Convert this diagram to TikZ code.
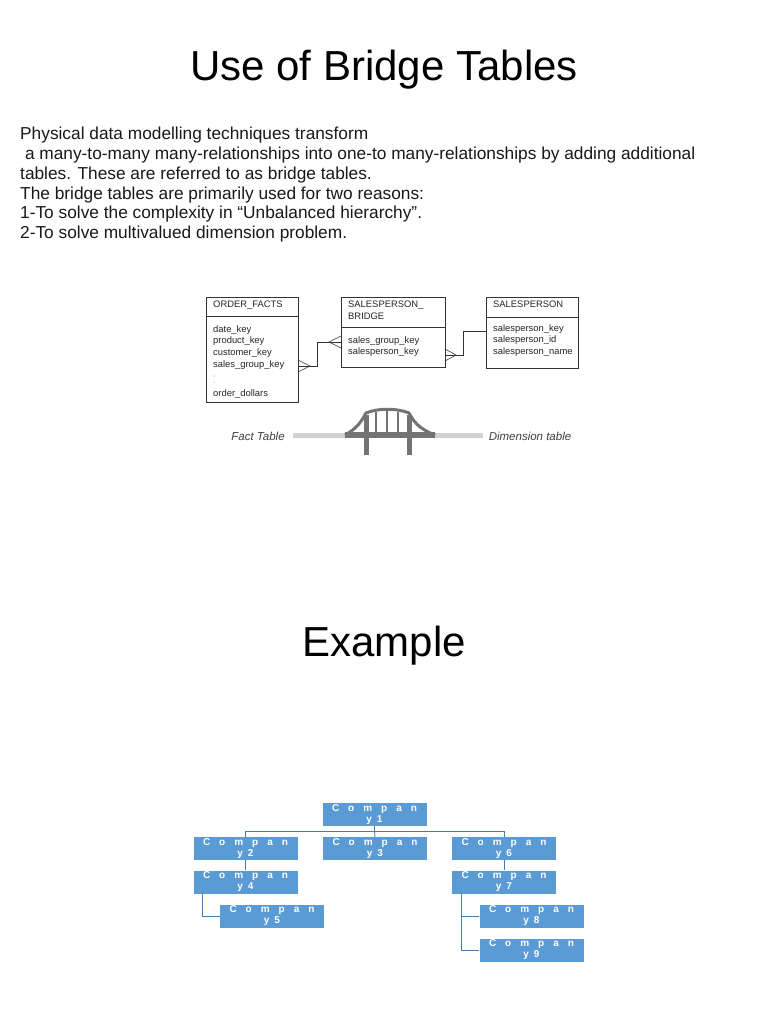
\documentclass[tikz,border=0pt]{standalone}
\usepackage{fontspec}
\setmainfont{Liberation Sans}
\newcommand{\cmp}[1]{C\hspace{9pt}o\hspace{9pt}m\hspace{9pt}p\hspace{9pt}a\hspace{9pt}n\\y\hspace{5pt}#1}
\begin{document}
\begin{tikzpicture}[x=1pt,y=-1pt,
  co/.style={fill=comp, text=white, minimum width=104pt, minimum height=23pt, inner sep=0pt, font=\fontsize{10}{11}\selectfont\bfseries, align=center},
  tb/.style={draw=black!80, line width=0.6pt},
  tt/.style={font=\fontsize{9.4}{11.8}\selectfont, anchor=north west, align=left, inner sep=0pt, text=black!85},
  cn/.style={line width=0.9pt, draw=comp!80!black}]
\definecolor{comp}{RGB}{91,155,213}
\useasboundingbox (0,0) rectangle (768,1024);
\fill[white] (0,0) rectangle (768,1024);
\node[font=\fontsize{42}{48}\selectfont] (t1) at (384,70) {Use of Bridge Tables};
\node[anchor=north west, align=left, inner sep=0pt, font=\fontsize{17.3}{19.8}\selectfont, text=black!90] (body) at (20,127) {Physical data modelling techniques transform\\
\ a many-to-many many-relationships into one-to many-relationships by adding additional\\
tables. These are referred to as bridge tables.\\
The bridge tables are primarily used for two reasons:\\
1-To solve the complexity in ``Unbalanced hierarchy''.\\
2-To solve multivalued dimension problem.};
% ER tables
\draw[tb] (206,297) rectangle (298,402); \draw[tb] (206,316)--(298,316);
\draw[tb] (341,297) rectangle (445,367); \draw[tb] (341,327)--(445,327);
\draw[tb] (486,297) rectangle (578,368); \draw[tb] (486,317)--(578,317);
\node[tt] (of) at (213,301) {ORDER\_FACTS};
\node[tt] (ofb) at (213,325) {date\_key\\product\_key\\customer\_key\\sales\_group\_key};
\fill[black!60] (214,376) circle (0.5pt) (214,382) circle (0.5pt);
\node[tt] (ofe) at (213,389) {order\_dollars};
\node[tt] (br) at (348,301) {SALESPERSON\_\\BRIDGE};
\node[tt] (brb) at (348,336) {sales\_group\_key\\salesperson\_key};
\node[tt] (sp) at (493,301) {SALESPERSON};
\node[tt] (spb) at (493,324) {salesperson\_key\\salesperson\_id\\salesperson\_name};
\draw[black!80, line width=0.6pt] (298,366)--(317,366)--(317,342)--(341,342);
\draw[black!80, line width=0.6pt] (298,360)--(310,366)--(298,372);
\draw[black!80, line width=0.6pt] (341,336)--(329,342)--(341,348);
\draw[black!80, line width=0.6pt] (445,355)--(463,355)--(463,331)--(486,331);
\draw[black!80, line width=0.6pt] (445,349)--(456,355)--(445,361);
% bridge graphic
\draw[black!18, line width=5pt] (293,435)--(483,435);
\draw[black!55, line width=6pt] (345,435)--(435,435);
\draw[black!55, line width=5pt] (366,415)--(366,455) (409,415)--(409,455);
\draw[black!55, line width=3pt] (345,435) .. controls (358,428) and (362,420) .. (366,413) .. controls (378,408) and (397,408) .. (409,413) .. controls (413,420) and (417,428) .. (435,435);
\draw[black!55, line width=1.5pt] (376,412)--(376,435) (387,410)--(387,435) (398,412)--(398,435);
\node[font=\fontsize{11.5}{12}\selectfont\itshape, text=black!75] (ft) at (258,436) {Fact Table};
\node[font=\fontsize{11.5}{12}\selectfont\itshape, text=black!75] (dt) at (530,436) {Dimension table};
\node[font=\fontsize{42}{48}\selectfont] (t2) at (384,646) {Example};
% org chart
\node[co] (c1) at (374.5,814.5) {\cmp{1}};
\node[co] (c2) at (245.5,848.5) {\cmp{2}};
\node[co] (c3) at (375,848.5) {\cmp{3}};
\node[co] (c6) at (504,848.5) {\cmp{6}};
\node[co] (c4) at (245.5,882) {\cmp{4}};
\node[co] (c7) at (504,882) {\cmp{7}};
\node[co] (c5) at (272,916) {\cmp{5}};
\node[co] (c8) at (531.5,916) {\cmp{8}};
\node[co] (c9) at (531.5,950) {\cmp{9}};
\coordinate (h) at (374.5,831);
\draw[cn] (c1.south)--(h);
\draw[cn] (c2.north)--(245.5,831)--(504,831)--(c6.north);
\draw[cn] (h)--(c3.north);
\draw[cn] (c2)--(c4);
\draw[cn] (c6)--(c7);
\draw[cn] (202,893)--(202,916)--(c5.west);
\draw[cn] (461,893)--(461,916)--(c8.west);
\draw[cn] (461,916)--(461,950)--(c9.west);
\end{tikzpicture}
\end{document}
